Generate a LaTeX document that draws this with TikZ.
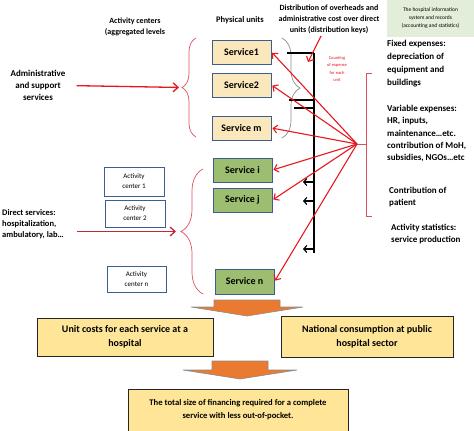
\documentclass[tikz,border=0pt]{standalone}
\usepackage{fontspec}
\setmainfont{Carlito}
\usetikzlibrary{arrows.meta,positioning,calc,decorations.pathreplacing}
\definecolor{unitsand}{HTML}{FBE7BC}
\definecolor{unitgreen}{HTML}{9DBE70}
\definecolor{unitframe}{HTML}{3C5D8E}
\definecolor{infomint}{HTML}{E2EEDA}
\definecolor{costred}{HTML}{E8161D}
\definecolor{directred}{HTML}{BE2B33}
\definecolor{bracered}{HTML}{DE4F5C}
\definecolor{resultgold}{HTML}{FFE597}
\definecolor{flowamber}{HTML}{EA7A30}
\tikzset{fin unit/.style={draw=unitframe, line width=1pt, minimum width=59pt, minimum height=24pt, inner sep=1pt, font=\bfseries\fontsize{10}{12}\selectfont}}
\tikzset{fin support/.style={fin unit, fill=unitsand}}
\tikzset{fin direct/.style={fin unit, fill=unitgreen}}
\tikzset{fin center/.style={draw=unitframe, line width=0.8pt, fill=white, align=center, minimum width=60pt, minimum height=27pt, inner sep=1pt, font=\fontsize{7}{10}\selectfont}}
\tikzset{fin text/.style={align=left, inner sep=0pt, font=\bfseries\fontsize{9}{12.5}\selectfont}}
\tikzset{fin head/.style={align=center, inner sep=0pt, font=\bfseries\fontsize{8}{11}\selectfont}}
\tikzset{fin result/.style={draw=black!85, line width=1pt, fill=resultgold, align=center, inner sep=2pt, font=\bfseries\fontsize{10}{14}\selectfont}}
\tikzset{fin fan/.style={-{Straight Barb[length=4pt,width=8pt]}, draw=costred, line width=1.1pt}}
\tikzset{fin feed/.style={-{Straight Barb[length=5pt,width=9pt]}, line width=1.3pt}}
\tikzset{fin key/.style={draw=black, line width=1.6pt}}
\tikzset{fin tick/.style={-{Straight Barb[length=3pt,width=7pt]}, draw=black, line width=1.2pt}}
\tikzset{fin brace/.style={decorate, decoration={brace, amplitude=#1}, line width=0.7pt}}
\tikzset{fin flow/.style={fill=flowamber, draw=black!45, line width=0.6pt}}

\begin{document}
\begin{tikzpicture}[x=1pt,y=-1pt]
		\useasboundingbox (0,0) rectangle (474,431);

		% headings
		\node[fin head] (centersHead) at (135,26.5) {Activity centers\\(aggregated levels};
		\node[fin head, font=\bfseries\fontsize{8.5}{11}\selectfont] (unitsHead) at (240,20) {Physical units};
		\node[fin head] (dist) at (329,19.5) {Distribution of overheads and\\administrative cost over direct\\units (distribution keys)};
		\node[fill=infomint, minimum width=87pt, minimum height=37pt, align=center, inner sep=0pt, font=\fontsize{5.5}{8}\selectfont] (info) at (430.5,18.5) {The hospital information\\system and records\\(accounting and statistics)};

		% physical units
		\node[fin support] (s1) at (241.5,52) {Service1};
		\node[fin support] (s2) at (241.5,85) {Service2};
		\node[fin support] (sm) at (241.5,128) {Service m};
		\node[fin direct] (si) at (242.5,170) {Service i};
		\node[fin direct] (sj) at (242.5,200) {Service j};
		\node[fin direct, minimum height=25pt] (sn) at (244.5,281.5) {Service n};

		% activity centers
		\node[fin center, minimum height=29pt] (ac1) at (134,181.5) {Activity\\center 1};
		\node[fin center] (ac2) at (135,213.5) {Activity\\center 2};
		\node[fin center, minimum width=59pt, minimum height=26pt] (acn) at (136.5,279) {Activity\\center n};

		% left side
		\node[fin text, align=center, font=\bfseries\fontsize{9}{12}\selectfont] (admin) at (38,85) {Administrative\\and support\\services};
		\node[fin text, anchor=west, font=\bfseries\fontsize{8.5}{10.8}\selectfont] (direct) at (2,224) {Direct services:\\hospitalization,\\ambulatory, lab\ldots};

		\draw[fin brace=14pt, bracered] (196,137) -- (196,38) coordinate[midway, xshift=-14pt] (tipA);
		\draw[fin brace=22pt, bracered] (203,294) -- (203,169) coordinate[midway, xshift=-22pt] (tipB);
		\draw[fin brace=18pt, black!45] (282,38) -- (282,138);

		\draw[fin feed, costred, shorten <=11pt, shorten >=3pt] (admin) -- (tipA);
		\draw[fin feed, directred, shorten <=13pt, shorten >=5pt] (direct.east |- tipB) -- (tipB);

		% distribution keys
		\coordinate (keyTop) at (314,53);
		\coordinate (keyBot) at (314,253);
		\draw[fin key] (keyTop) -- (keyBot);
		\draw[fin key] (keyTop) -- ++(-27,0);
		\draw[fin key] (314,100) -- (289,100);
		\draw[fin key] (314,108) -- (294,108);
		\foreach \y in {182,201,249}
			\draw[fin tick] (314,\y) -- (303,\y);

		\coordinate (distTip) at (308,62);
		\draw[fin fan, shorten <=2pt] ([xshift=-7pt]dist.south) -- (distTip);

		\node[align=center, inner sep=0pt, text=costred, font=\fontsize{4.5}{7.3}\selectfont] (counting) at (337,69) {Counting\\of expense\\for each\\unit};

		% expense fan
		\coordinate (fan) at (357,144);
		\draw[bracered, line width=0.7pt] (372,73) -- (366,73) -- (366,216) -- (372,216);
		\draw[bracered, line width=0.7pt] (366,144) -- (fan);
		\foreach \s in {s1,s2,sm,si,sj,sn}
			\draw[fin fan, shorten >=1pt] (fan) -- (\s.east);

		% right side
		\node[fin text, anchor=west, font=\bfseries\fontsize{9}{13}\selectfont] (fixed) at (387,63.5) {Fixed expenses:\\depreciation of\\equipment and\\buildings};
		\node[fin text, anchor=west, font=\bfseries\fontsize{9}{12.3}\selectfont] (variable) at (387,133.5) {Variable expenses:\\HR, inputs,\\maintenance\ldots etc.\\contribution of MoH,\\subsidies, NGOs\ldots etc};
		\node[fin text, anchor=west] (patient) at (389,197) {Contribution of\\patient};
		\node[fin text, anchor=west] (stats) at (391,234) {Activity statistics:\\service production};

		% results
		\coordinate (flowA) at (247,300);
		\draw[fin flow] (flowA) ++(-33,0) -- ++(66,0) -- ++(0,7) -- ++(23,0) -- (247,316) -- (191,307) -- (214,307) -- cycle;
		\node[fin result, minimum width=176pt, minimum height=38pt] (unitCost) at (125,337) {Unit costs for each service at a\\hospital};
		\node[fin result, minimum width=172pt, minimum height=41pt] (national) at (367,336.5) {National consumption at public\\hospital sector};

		\coordinate (flowB) at (240,361);
		\draw[fin flow] (flowB) ++(-28,0) -- ++(56,0) -- ++(0,9) -- ++(29,0) -- (240,379) -- (183,370) -- (212,370) -- cycle;
		\node[fin result, minimum width=220pt, minimum height=42pt, font=\bfseries\fontsize{8.6}{13}\selectfont] (total) at (238,410) {The total size of financing required for a complete\\service with less out-of-pocket.};
	\end{tikzpicture}
\end{document}
